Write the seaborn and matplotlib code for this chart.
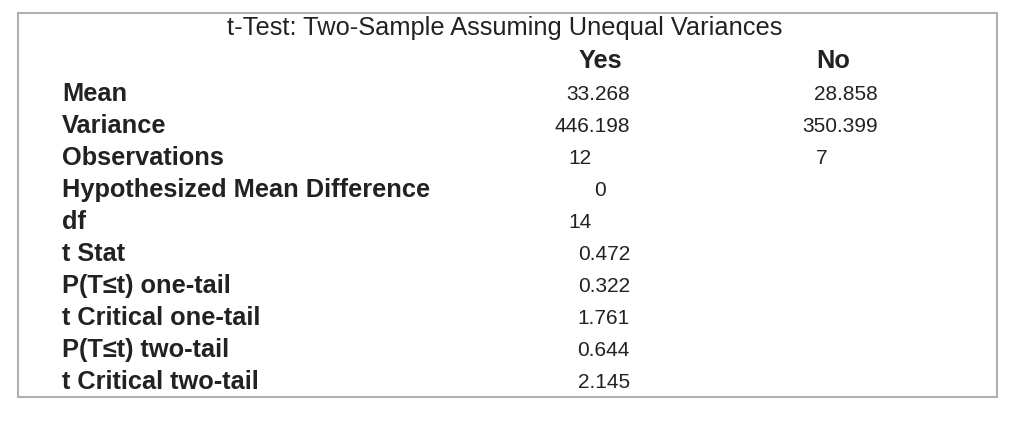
import matplotlib
matplotlib.use("Agg")
import matplotlib.pyplot as plt
import seaborn as sns
from matplotlib.patches import Rectangle

sns.set_theme(style="white")
plt.rcParams['font.family'] = ['Liberation Sans', 'DejaVu Sans']

title = "t-Test: Two-Sample Assuming Unequal Variances"
columns = ["Yes", "No"]
row_labels = ["Mean", "Variance", "Observations", "Hypothesized Mean Difference", "df",
              "t Stat", "P(T\u2264t) one-tail", "t Critical one-tail",
              "P(T\u2264t) two-tail", "t Critical two-tail"]
yes_values = ["33.268", "446.198", "12", "0", "14", "0.472", "0.322", "1.761", "0.644", "2.145"]
no_values = ["28.858", "350.399", "7", "", "", "", "", "", "", ""]

W, H = 1020, 426
fig = plt.figure(figsize=(W / 100, H / 100), dpi=100)
fig.patch.set_facecolor("white")
ax = fig.add_axes([0, 0, 1, 1])
ax.set_xlim(0, W)
ax.set_ylim(H, 0)
ax.axis("off")

ax.add_patch(Rectangle((18, 13), 979, 384, fill=False, edgecolor="#b0b0b0", lw=1.5))
fs_lab = 18.3
fs_num = 15
ax.text(505, 28, title, ha="center", va="center", fontsize=fs_lab, color="#222")
ax.text(600, 61, columns[0], ha="center", va="center", fontsize=fs_lab, fontweight="bold", color="#222")
ax.text(833, 61, columns[1], ha="center", va="center", fontsize=fs_lab, fontweight="bold", color="#222")

ys = [94 + i * 32 for i in range(len(row_labels))]
yes_align = {"12": ("left", 568), "0": ("center", 600), "14": ("left", 568)}
for y, lab, yv, nv in zip(ys, row_labels, yes_values, no_values):
    ax.text(62, y, lab, ha="left", va="center", fontsize=fs_lab, fontweight="bold", color="#222")
    ha, x = yes_align.get(yv, ("right", 630))
    ax.text(x, y, yv, ha=ha, va="center", fontsize=fs_num, color="#222")
    if nv:
        if len(nv) > 2:
            ax.text(878, y, nv, ha="right", va="center", fontsize=fs_num, color="#222")
        else:
            ax.text(822, y, nv, ha="center", va="center", fontsize=fs_num, color="#222")

fig.savefig("out.png", dpi=100, facecolor="white")
